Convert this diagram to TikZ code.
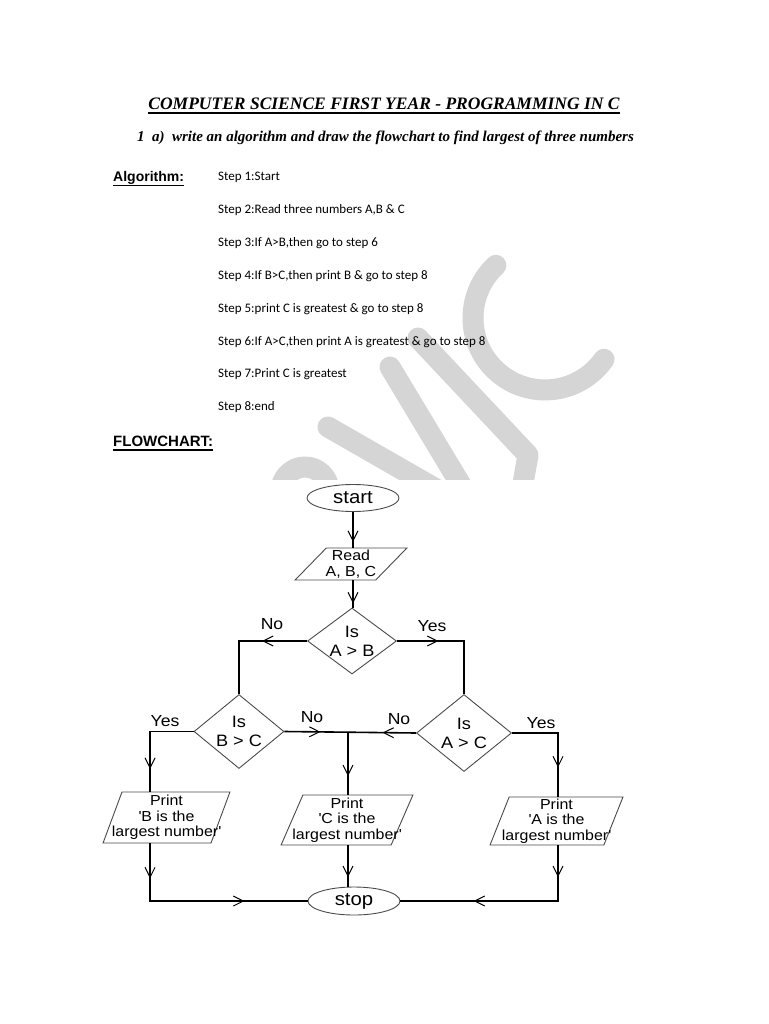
\documentclass[tikz,border=0pt]{standalone}
\usepackage{fontspec}
\setmainfont{Liberation Serif}
\newfontfamily\arialfont{Liberation Sans}
\newfontfamily\fcfamily{Liberation Sans}[FakeStretch=1.1]
\newfontfamily\calfont{Carlito}
\usetikzlibrary{shapes.geometric,arrows.meta,decorations.markings}
\definecolor{wmgray}{HTML}{D5D5D5}
\definecolor{shp}{HTML}{4A4A4A}
\tikzset{
  fcv/.tip={Straight Barb[length=10pt,width=10pt,line width=1pt]},
  mk/.style={postaction={decorate,decoration={markings,mark=at position #1 with {\arrow{fcv}}}}},
  conn/.style={line width=1.6pt,black},
  fc/.style={draw=shp,line width=0.9pt,inner sep=0pt,align=center},
  term/.style={fc,ellipse,minimum width=92pt,minimum height=27pt,font={\fcfamily\fontsize{18.5}{20}\selectfont}},
  io/.style={fc,trapezium,trapezium stretches=true,inner xsep=-18pt,inner ysep=-2pt,font={\fcfamily\fontsize{14.5}{15.5}\selectfont}},
  dec/.style={fc,diamond,inner sep=-5pt,font={\fcfamily\fontsize{16.5}{19}\selectfont}},
  lbl/.style={inner sep=0pt,font={\fcfamily\fontsize{16}{18}\selectfont}},
  steptxt/.style={anchor=base west,inner sep=0pt,font={\calfont\fontsize{13}{15}\selectfont}},
  ulhead/.style={anchor=base west,inner sep=0pt},
}
\begin{document}
\begin{tikzpicture}[x=1pt,y=-1pt]
\fill[white] (0,0) rectangle (768,1024);
\useasboundingbox (0,0) rectangle (768,1024);

% watermark
\begin{scope}[color=wmgray,line width=21pt,line cap=round,line join=round]
\draw (495.9,265.3) arc[start angle=133,end angle=325,radius=72pt];
\draw (418,338) -- (528,455) -- (521,495);
\draw (390,367) -- (470,500);
\draw (328,427) -- (450,497);
\draw (281,491) arc[start angle=180,end angle=0,radius=24pt];
\end{scope}
\fill[white] (92,480) rectangle (706,920);

% headings
\node[anchor=base,inner sep=0pt,font={\bfseries\itshape\fontsize{17.5}{20}\selectfont}] (title) at (384,109.5) {COMPUTER SCIENCE FIRST YEAR - PROGRAMMING IN C};
\draw[line width=1.8pt] ([yshift=-3.6pt]title.base west) -- ([yshift=-3.6pt]title.base east);
\node[anchor=base,inner sep=0pt,font={\bfseries\itshape\fontsize{15}{18}\selectfont}] (sub) at (385.5,142) {1\ \ a)\ \ write an algorithm and draw the flowchart to find largest of three numbers};

\node[ulhead,font={\arialfont\bfseries\fontsize{14}{16}\selectfont}] (alg) at (113,182) {Algorithm:};
\draw[line width=1.2pt] ([yshift=-3.5pt]alg.base west) -- ([yshift=-3.5pt]alg.base east);

\node[steptxt] (s1) at (218,181) {Step 1:Start};
\node[steptxt] (s2) at (218,213.8) {Step 2:Read three numbers A,B \& C};
\node[steptxt] (s3) at (218,246.6) {Step 3:If A>B,then go to step 6};
\node[steptxt] (s4) at (218,279.4) {Step 4:If B>C,then print B \& go to step 8};
\node[steptxt] (s5) at (218,312.2) {Step 5:print C is greatest \& go to step 8};
\node[steptxt] (s6) at (218,345) {Step 6:If A>C,then print A is greatest \& go to step 8};
\node[steptxt] (s7) at (218,377.8) {Step 7:Print C is greatest};
\node[steptxt] (s8) at (218,410.6) {Step 8:end};

\node[ulhead,font={\arialfont\bfseries\fontsize{15}{17}\selectfont}] (fch) at (113,446.5) {FLOWCHART:};
\draw[line width=1.2pt] ([yshift=-3.5pt]fch.base west) -- ([yshift=-3.5pt]fch.base east);

% flowchart nodes
\node[term] (start) at (353,498) {start};
\node[io,trapezium left angle=69,trapezium right angle=111,minimum width=112pt,minimum height=32pt] (read) at (351,564) {Read\\A, B, C};
\node[dec,minimum width=89pt,minimum height=66pt] (ab) at (352,641) {Is\\A > B};
\node[dec,minimum width=90pt,minimum height=74pt] (bc) at (239,731.5) {Is\\B > C};
\node[dec,minimum width=95pt,minimum height=77pt] (ac) at (464,733) {Is\\A > C};
\node[io,trapezium left angle=69,trapezium right angle=111,minimum width=127pt,minimum height=51pt] (prb) at (166.5,817.5) {Print\\\textquotesingle B is the\\largest number\textquotesingle};
\node[io,trapezium left angle=66,trapezium right angle=114,minimum width=132pt,minimum height=50pt] (prc) at (347,820) {Print\\\textquotesingle C is the\\largest number\textquotesingle};
\node[io,trapezium left angle=70,trapezium right angle=110,minimum width=133pt,minimum height=48pt] (pra) at (556.5,821) {Print\\\textquotesingle A is the\\largest number\textquotesingle};
\node[term,minimum height=28pt] (stop) at (354,901) {stop};
\coordinate (j) at (348,732.2);

% labels
\node[lbl] (lno1) at (272,624) {No};
\node[lbl] (lyes1) at (432,626) {Yes};
\node[lbl] (lyes2) at (165,721) {Yes};
\node[lbl] (lno2) at (312,717) {No};
\node[lbl] (lno3) at (399,719) {No};
\node[lbl] (lyes3) at (541,723) {Yes};

% connectors
\draw[conn,mk=30pt] (start.south) -- (start.south |- read.north);
\draw[conn,mk=23pt] (read.south -| start.south) -- (start.south |- ab.north);
\draw[conn,mk=45pt] (ab.west) -| (bc.north);
\draw[conn,mk=41.5pt] (ab.east) -| (ac.north);
\draw[conn,mk=81pt] (bc.west) -| ([xshift=-16.5pt]prb.north);
\draw[conn,mk=36pt] (bc.east) -- (j);
\draw[conn,mk=33.5pt] (ac.west) -- (j);
\draw[conn,mk=44pt] (j) -- (j |- prc.north);
\draw[conn,mk=80.5pt] (ac.east) -| ([xshift=1.5pt]pra.north);
\draw[conn,mk=35pt,mk=152pt] ([xshift=-16.5pt]prb.south) |- (stop.west);
\draw[conn,mk=31.7pt] (prc.south -| j) -- (j |- stop.north);
\draw[conn,mk=31.7pt,mk=140pt] ([xshift=1.5pt]pra.south) |- (stop.east);
\end{tikzpicture}
\end{document}
